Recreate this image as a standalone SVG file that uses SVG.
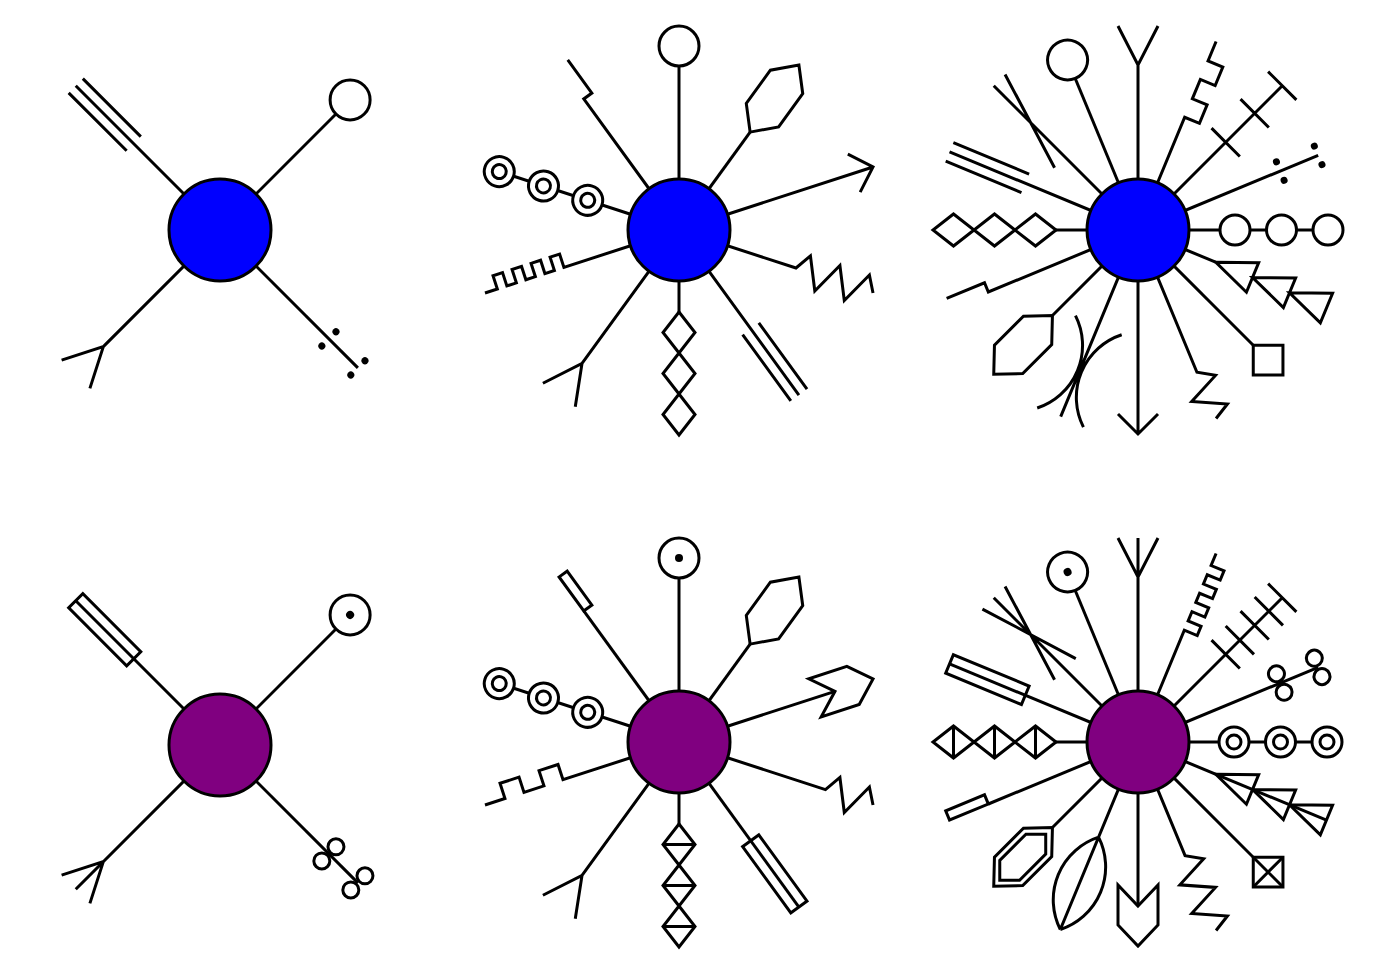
<svg xmlns="http://www.w3.org/2000/svg" xmlns:xlink="http://www.w3.org/1999/xlink" width="1392" height="970" viewBox="0 0 1392 970">
<style>
.k{stroke:#000;stroke-width:3;fill:none}
.w{stroke:#000;stroke-width:3;fill:#fff}
.d{fill:#000;stroke:none}
.hb{fill:#0000ff;stroke:#000;stroke-width:3}
.hp{fill:#800080;stroke:#000;stroke-width:3}
</style>
<defs>
<g id="circ"><path class="k" d="M0,0H164"/><circle class="w" cx="184" cy="0" r="20"/></g>
<g id="dotcirc"><use href="#circ"/><circle class="d" cx="184" cy="0" r="4"/></g>
<g id="triple"><path class="k" d="M0,0H204M122,-10H204M122,10H204"/></g>
<g id="dblrect"><path class="k" d="M0,0H204"/><rect class="k" x="122" y="-10" width="82" height="20"/></g>
<g id="fork2"><path class="k" d="M0,0H165M204,-20L165,0L204,20"/></g>
<g id="fork3"><path class="k" d="M0,0H204M204,-20L165,0L204,20"/></g>
<g id="dots"><path class="k" d="M0,0H195"/><circle class="d" cx="154" cy="-10" r="3.5"/><circle class="d" cx="154" cy="10" r="3.5"/><circle class="d" cx="195" cy="-10" r="3.5"/><circle class="d" cx="195" cy="10" r="3.5"/></g>
<g id="clover"><path class="k" d="M0,0H195"/><circle class="w" cx="154" cy="-10" r="8"/><circle class="w" cx="154" cy="10" r="8"/><circle class="w" cx="195" cy="-10" r="8"/><circle class="w" cx="195" cy="10" r="8"/></g>
<g id="hex"><path class="k" d="M0,0H121"/><path class="w" d="M121,0L142,-20H183L204,0L183,20H142Z"/></g>
<g id="hex2"><use href="#hex"/><path class="k" d="M130.5,0L144.5,-14H181.5L195.5,0L181.5,14H144.5Z"/></g>
<g id="arrow"><path class="k" d="M0,0H204M184,-20L204,0L184,20"/></g>
<g id="chev"><path class="k" d="M0,0H164"/><path class="w" d="M164,0L143,-20H183L204,0L183,20H143Z"/></g>
<g id="zig3"><path class="k" d="M0,0H123L133,-16L148,16L164,-16L179,16L195,-16L204,0"/></g>
<g id="zig2"><path class="k" d="M0,0H154L164,-16L179,16L195,-16L204,0"/></g>
<g id="diam"><path class="k" d="M0,0H82"/><path class="w" d="M82,0L102.5,-16L123,0L102.5,16ZM123,0L143.5,-16L164,0L143.5,16ZM164,0L184.5,-16L205,0L184.5,16Z"/></g>
<g id="diambar"><use href="#diam"/><path class="k" d="M102.5,-16V16M143.5,-16V16M184.5,-16V16"/></g>
<g id="sq4"><path class="k" d="M0,0H121V14H131V0H141V14H151V0H161V14H171V0H181V14H191V0H204"/></g>
<g id="sq2"><path class="k" d="M0,0H122V16H142V0H163V16H183V0H204"/></g>
<g id="conc"><path class="k" d="M0,0H189"/><circle class="w" cx="96" cy="0" r="15"/><circle class="k" cx="96" cy="0" r="7"/><circle class="w" cx="142.5" cy="0" r="15"/><circle class="k" cx="142.5" cy="0" r="7"/><circle class="w" cx="189" cy="0" r="15"/><circle class="k" cx="189" cy="0" r="7"/></g>
<g id="circs"><path class="k" d="M0,0H190"/><circle class="w" cx="97" cy="0" r="15"/><circle class="w" cx="143.5" cy="0" r="15"/><circle class="w" cx="190" cy="0" r="15"/></g>
<g id="light"><path class="k" d="M0,0H162V10H203"/></g>
<g id="nrect"><path class="k" d="M0,0H162"/><rect class="k" x="162" y="0" width="42" height="10"/></g>
<g id="cross3"><path class="k" d="M0,0H204M124,-20V20M165,-20V20M204,-20V20"/></g>
<g id="cross5"><path class="k" d="M0,0H204M124,-20V20M144,-20V20M165,-20V20M185,-20V20M204,-20V20"/></g>
<g id="tri"><path class="k" d="M0,0H84"/><path class="w" d="M84,0L124,-16V16ZM124,0L164,-16V16ZM164,0L204,-16V16Z"/></g>
<g id="trib"><path class="k" d="M0,0H204"/><path class="k" d="M84,0L124,-16V16ZM124,0L164,-16V16ZM164,0L204,-16V16Z"/></g>
<g id="sqr"><path class="k" d="M0,0H163"/><path class="w" d="M163,0L184,-21L205,0L184,21Z"/></g>
<g id="sqx"><path class="k" d="M0,0H205M184,-21V21"/><path class="k" d="M163,0L184,-21L205,0L184,21Z"/></g>
<g id="arcs"><path class="k" d="M0,0H202M103,25A66,66 0 0 1 203,25M103,-25A66,66 0 0 0 203,-25"/></g>
<g id="lens"><path class="k" d="M0,0H203M103,0A66,66 0 0 1 203,0M103,0A66,66 0 0 0 203,0"/></g>
<g id="x1"><path class="k" d="M0,0H204M103,-15L204,16"/></g>
<g id="x2"><path class="k" d="M0,0H204M103,-15L204,16M103,15L204,-16"/></g>
</defs>
<rect width="1392" height="970" fill="#fff"/>

<g id="glyph1" transform="translate(220,230)">
<g id="glyph1-spokes">
<use href="#triple" transform="rotate(225)"/>
<use href="#circ" transform="rotate(315)"/>
<use href="#fork2" transform="rotate(135)"/>
<use href="#dots" transform="rotate(45)"/>
</g>
<circle id="hub1" class="hb" r="51"/>
</g>

<g id="glyph2" transform="translate(679,230)">
<g id="glyph2-spokes">
<use href="#circ" transform="rotate(270)"/>
<use href="#hex" transform="rotate(306)"/>
<use href="#arrow" transform="rotate(342)"/>
<use href="#zig3" transform="rotate(18)"/>
<use href="#triple" transform="rotate(54)"/>
<use href="#diam" transform="rotate(90)"/>
<use href="#fork2" transform="rotate(126)"/>
<use href="#sq4" transform="rotate(162)"/>
<use href="#conc" transform="rotate(198)"/>
<use href="#light" transform="rotate(234)"/>
</g>
<circle id="hub2" class="hb" r="51"/>
</g>

<g id="glyph3" transform="translate(1138,230)">
<g id="glyph3-spokes">
<use href="#fork2" transform="rotate(270)"/>
<use href="#sq2" transform="rotate(292.5)"/>
<use href="#cross3" transform="rotate(315)"/>
<use href="#dots" transform="rotate(337.5)"/>
<use href="#circs" transform="rotate(0)"/>
<use href="#tri" transform="rotate(22.5)"/>
<use href="#sqr" transform="rotate(45)"/>
<use href="#zig2" transform="rotate(67.5)"/>
<use href="#arrow" transform="rotate(90)"/>
<use href="#arcs" transform="rotate(112.5)"/>
<use href="#hex" transform="rotate(135)"/>
<use href="#light" transform="rotate(157.5)"/>
<use href="#diam" transform="rotate(180)"/>
<use href="#triple" transform="rotate(202.5)"/>
<use href="#x1" transform="rotate(225)"/>
<use href="#circ" transform="rotate(247.5)"/>
</g>
<circle id="hub3" class="hb" r="51"/>
</g>

<g id="glyph4" transform="translate(220,745)">
<g id="glyph4-spokes">
<use href="#dblrect" transform="rotate(225)"/>
<use href="#dotcirc" transform="rotate(315)"/>
<use href="#fork3" transform="rotate(135)"/>
<use href="#clover" transform="rotate(45)"/>
</g>
<circle id="hub4" class="hp" r="51"/>
</g>

<g id="glyph5" transform="translate(679,742)">
<g id="glyph5-spokes">
<use href="#dotcirc" transform="rotate(270)"/>
<use href="#hex" transform="rotate(306)"/>
<use href="#chev" transform="rotate(342)"/>
<use href="#zig2" transform="rotate(18)"/>
<use href="#dblrect" transform="rotate(54)"/>
<use href="#diambar" transform="rotate(90)"/>
<use href="#fork2" transform="rotate(126)"/>
<use href="#sq2" transform="rotate(162)"/>
<use href="#conc" transform="rotate(198)"/>
<use href="#nrect" transform="rotate(234)"/>
</g>
<circle id="hub5" class="hp" r="51"/>
</g>

<g id="glyph6" transform="translate(1138,742)">
<g id="glyph6-spokes">
<use href="#fork3" transform="rotate(270)"/>
<use href="#sq4" transform="rotate(292.5)"/>
<use href="#cross5" transform="rotate(315)"/>
<use href="#clover" transform="rotate(337.5)"/>
<use href="#conc" transform="rotate(0)"/>
<use href="#trib" transform="rotate(22.5)"/>
<use href="#sqx" transform="rotate(45)"/>
<use href="#zig3" transform="rotate(67.5)"/>
<use href="#chev" transform="rotate(90)"/>
<use href="#lens" transform="rotate(112.5)"/>
<use href="#hex2" transform="rotate(135)"/>
<use href="#nrect" transform="rotate(157.5)"/>
<use href="#diambar" transform="rotate(180)"/>
<use href="#dblrect" transform="rotate(202.5)"/>
<use href="#x2" transform="rotate(225)"/>
<use href="#dotcirc" transform="rotate(247.5)"/>
</g>
<circle id="hub6" class="hp" r="51"/>
</g>
</svg>
